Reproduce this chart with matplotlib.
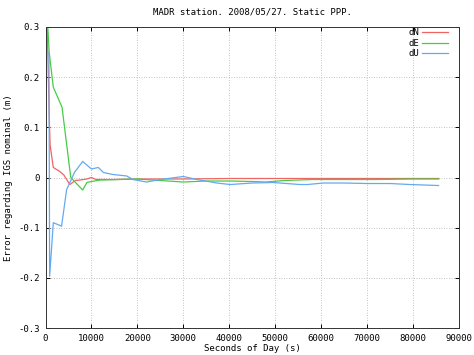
import matplotlib
matplotlib.use("Agg")
import matplotlib.pyplot as plt
from matplotlib.ticker import MultipleLocator

# seconds of day and errors (m)
t_n = [300, 800, 1000, 1700, 3100, 4000, 5300, 6500, 7500, 9000, 10000, 11000,
       15000, 20000, 25000, 30000, 40000, 50000, 60000, 70000, 80000, 85600]
dN = [0.33, 0.125, 0.065, 0.02, 0.012, 0.005, -0.014, -0.006, -0.005, -0.003, 0.0, -0.004,
      -0.004, -0.003, -0.003, -0.003, -0.002, -0.002, -0.002, -0.002, -0.002, -0.002]

t_e = [500, 800, 1700, 3600, 5500, 8100, 9000, 10000, 12000, 16000, 20000, 25000,
       30000, 35000, 40000, 45000, 48000, 52000, 58000, 65000, 72000, 80000, 85600]
dE = [0.30, 0.25, 0.18, 0.14, 0.0, -0.025, -0.01, -0.008, -0.005, -0.004, -0.003, -0.006,
      -0.009, -0.007, -0.007, -0.008, -0.009, -0.006, -0.004, -0.004, -0.004, -0.003, -0.003]

t_u = [750, 900, 1700, 3500, 4600, 6300, 8100, 10000, 11500, 12600, 14700, 17700, 19000,
       22000, 25000, 30000, 33000, 37300, 40200, 45000, 49600, 55400, 57000, 60500,
       65000, 70000, 75000, 79400, 85600]
dU = [0.25, -0.197, -0.09, -0.097, -0.024, 0.01, 0.032, 0.017, 0.02, 0.01, 0.006, 0.003, -0.004,
      -0.009, -0.004, 0.002, -0.004, -0.011, -0.014, -0.011, -0.01, -0.014, -0.014, -0.011,
      -0.011, -0.012, -0.012, -0.014, -0.016]

mono = "DejaVu Sans Mono"
fs = 6.5

fig = plt.figure(figsize=(4.74, 3.55), dpi=100)
ax = fig.add_axes([0.096, 0.076, 0.872, 0.848])

ax.plot(t_n, dN, color="#f06464", lw=0.9, label="dN")
ax.plot(t_e, dE, color="#46cc46", lw=0.9, label="dE")
ax.plot(t_u, dU, color="#64aaf0", lw=0.9, label="dU")

ax.set_xlim(0, 90000)
ax.set_ylim(-0.3, 0.3)
ax.xaxis.set_major_locator(MultipleLocator(10000))
ax.yaxis.set_major_locator(MultipleLocator(0.1))
ax.set_yticklabels([f"{v:g}" if abs(v) > 1e-9 else "0" for v in ax.get_yticks()])

ax.grid(True, color="#b0b0b0", linestyle=(0, (1, 2)), linewidth=0.6)
ax.tick_params(direction="in", top=True, right=True, length=3, width=0.7,
               labelsize=fs, pad=4)
for lab in ax.get_xticklabels() + ax.get_yticklabels():
    lab.set_family(mono)
for sp in ax.spines.values():
    sp.set_linewidth(0.7)
    sp.set_color("#333333")

ax.set_title("MADR station. 2008/05/27. Static PPP.", fontsize=fs, family=mono, pad=9)
ax.set_xlabel("Seconds of Day (s)", fontsize=fs, family=mono, labelpad=1)
ax.set_ylabel("Error regarding IGS nominal (m)", fontsize=fs, family=mono, labelpad=4)

leg = ax.legend(loc="upper right", bbox_to_anchor=(0.973, 0.995), frameon=False,
                markerfirst=False, handlelength=2.8, handletextpad=0.4,
                labelspacing=0.15, borderaxespad=0, borderpad=0,
                prop={"family": mono, "size": fs})

fig.savefig("out.png", dpi=100)
